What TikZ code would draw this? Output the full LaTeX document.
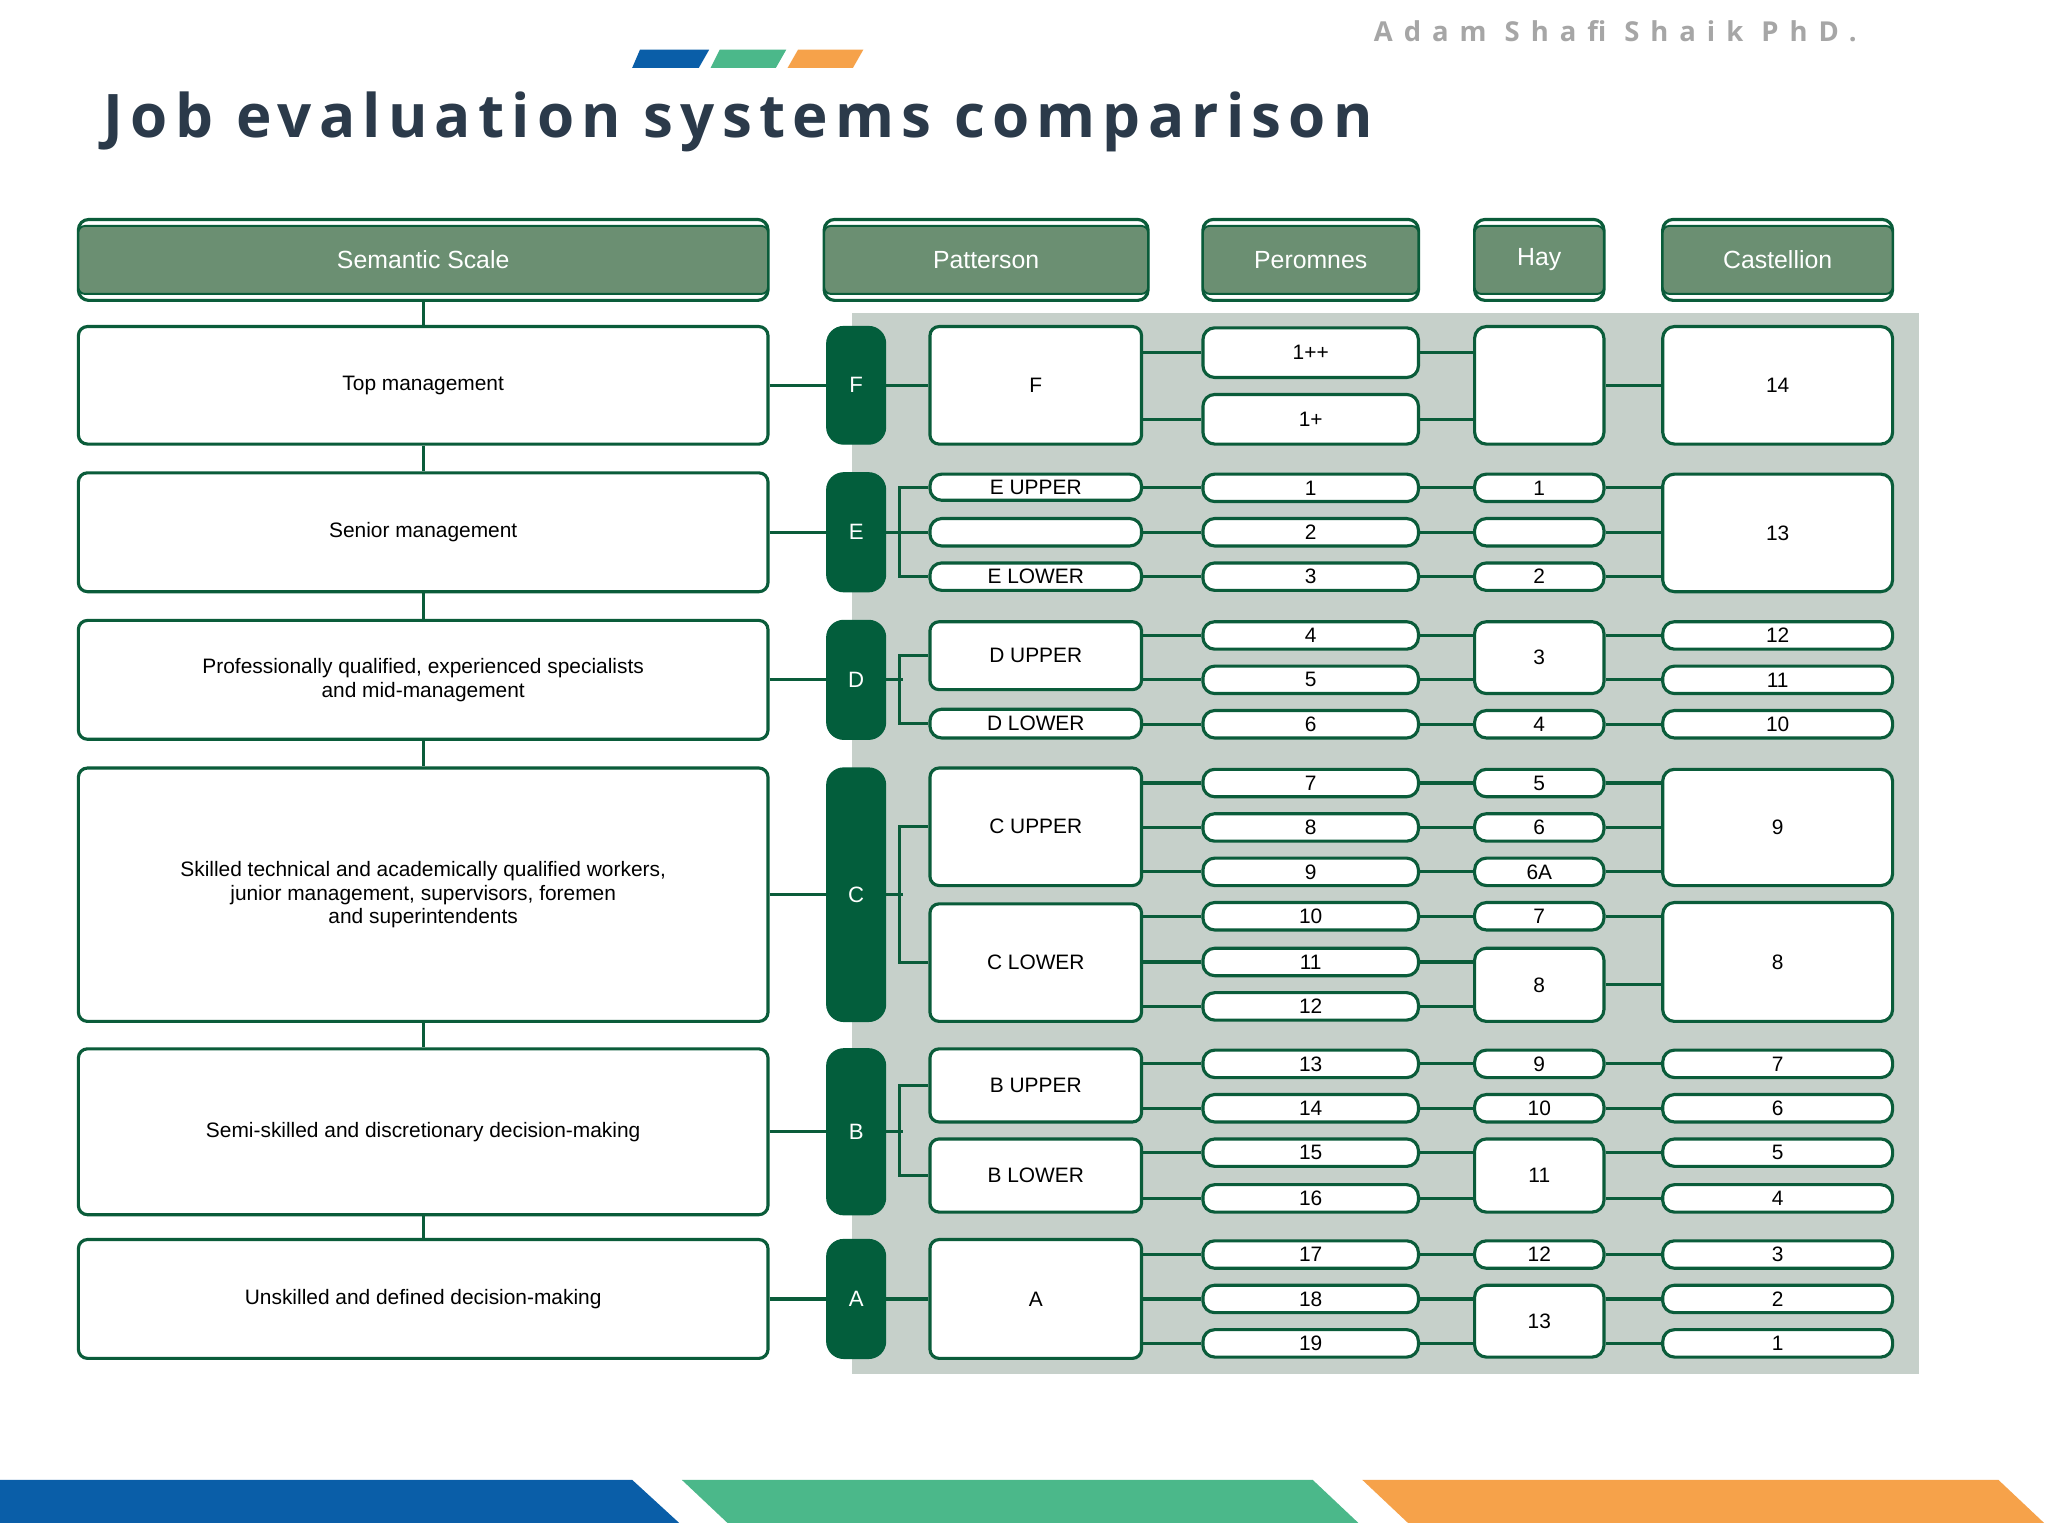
\documentclass[tikz,border=0pt]{standalone}
\usepackage{fontspec}
\setmainfont{Liberation Sans}
\newfontfamily\titlefont[LetterSpace=12]{Open Sans}
\newfontfamily\authfont[LetterSpace=40]{Open Sans}
\definecolor{dkg}{HTML}{0A5C3A}
\definecolor{pillg}{HTML}{035E3C}
\definecolor{hdr}{HTML}{6B8F72}
\definecolor{bgg}{HTML}{C6D0CA}
\definecolor{bl}{HTML}{0A5EA8}
\definecolor{gr}{HTML}{4BB88A}
\definecolor{orn}{HTML}{F6A24A}
\definecolor{ttl}{HTML}{2B3A4A}
\newcommand\mk[7]{\node[#1,minimum width={(#5-#3)*1pt},minimum height={(#6-#4)*1pt}] (#2) at ({(#3+#5)/2},{(#4+#6)/2}) {#7};}
\tikzset{
 bx/.style={draw=dkg,line width=2.4pt,rounded corners=7pt,fill=white,inner sep=0pt,font=\fontsize{16}{18}\selectfont,align=center},
 pl/.style={bx,rounded corners=9pt},
 lt/.style={draw=pillg,fill=pillg,rounded corners=13pt,line width=1pt,inner sep=0pt,text=white,font=\fontsize{17}{18}\selectfont},
 hd/.style={draw=dkg,line width=2.4pt,rounded corners=8pt,fill=white,inner sep=0pt},
 hi/.style={draw=dkg,line width=1.5pt,rounded corners=5pt,fill=hdr,inner sep=0pt,text=white,font=\fontsize{19}{20}\selectfont},
 ln/.style={draw=dkg,line width=2.4pt}
}
\begin{document}
\begin{tikzpicture}[x=1pt,y=-1pt]
\useasboundingbox (0,0) rectangle (1568,1176);
\fill[white] (0,0) rectangle (1568,1176);
\node[anchor=east,text=gray!70,font=\authfont\bfseries\fontsize{21}{22}\selectfont] (auth) at (1425,24) {Adam Shafi Shaik PhD.};
\fill[bl] (490,38)--(543,38)--(535,52)--(484,52)--cycle;
\fill[gr] (551,38)--(602,38)--(594,52)--(544,52)--cycle;
\fill[orn] (611,38)--(661,38)--(653,52)--(603,52)--cycle;
\node[anchor=west,text=ttl,font=\titlefont\bfseries\fontsize{46}{48}\selectfont] (title) at (76,93) {Job evaluation systems comparison};
\fill[bgg] (652,240) rectangle (1469,1052);
% headers
\foreach \n/\a/\b/\t in {HS/60/588/Semantic Scale,HP/631/879/Patterson,HR/921/1086/Peromnes,HH/1129/1228/Hay,HC/1273/1449/Castellion}{
 \mk{hd}{\n}{\a}{168}{\b}{230}{}
 \mk{hi}{\n i}{\a+5}{173}{\b-5}{225}{\t}
}
% left boxes
\mk{bx}{L1}{60}{250}{588}{340}{Top management}
\mk{bx}{L2}{60}{362}{588}{453}{Senior management}
\mk{bx}{L3}{60}{475}{588}{566}{Professionally qualified, experienced specialists\\and mid-management}
\mk{bx}{L4}{60}{588}{588}{782}{Skilled technical and academically qualified workers,\\junior management, supervisors, foremen\\and superintendents}
\mk{bx}{L5}{60}{803}{588}{930}{Semi-skilled and discretionary decision-making}
\mk{bx}{L6}{60}{949}{588}{1040}{Unskilled and defined decision-making}
\draw[ln] (HS.south)--(L1.north) (L1.south)--(L2.north) (L2.south)--(L3.north) (L3.south)--(L4.north) (L4.south)--(L5.north) (L5.south)--(L6.north);
% letters
\mk{lt}{GF}{633}{250}{678}{340}{F}
\mk{lt}{GE}{633}{362}{678}{453}{E}
\mk{lt}{GD}{633}{475}{678}{566}{D}
\mk{lt}{GC}{633}{588}{678}{782}{C}
\mk{lt}{GB}{633}{803}{678}{930}{B}
\mk{lt}{GA}{633}{949}{678}{1040}{A}
\draw[ln] (L1.east)--(GF.west) (L2.east)--(GE.west) (L3.east)--(GD.west) (L4.east)--(GC.west) (L5.east)--(GB.west) (L6.east)--(GA.west);
% Patterson
\mk{bx}{PF}{712}{250}{874}{340}{F}
\mk{pl}{PEu}{712}{363}{874}{383}{E UPPER}
\mk{pl}{PEm}{712}{397}{874}{418}{}
\mk{pl}{PEl}{712}{431}{874}{452}{E LOWER}
\mk{bx}{PDu}{712}{476}{874}{528}{D UPPER}
\mk{pl}{PDl}{712}{543}{874}{565}{D LOWER}
\mk{bx}{PCu}{712}{588}{874}{678}{C UPPER}
\mk{bx}{PCl}{712}{692}{874}{782}{C LOWER}
\mk{bx}{PBu}{712}{803}{874}{859}{B UPPER}
\mk{bx}{PBl}{712}{872}{874}{928}{B LOWER}
\mk{bx}{PA}{712}{949}{874}{1040}{A}
\draw[ln] (GF.east)--(PF.west) (GA.east)--(PA.west) (GE.east)--(PEm.west);
\draw[ln] (PEu.west)--++(-22,0)|-(PEl.west);
\draw[ln] (GD.east)--++(13,0) (PDu.west)--++(-22,0)|-(PDl.west);
\draw[ln] (GC.east)--++(13,0) (PCu.west)--++(-22,0)|-(PCl.west);
\draw[ln] (GB.east)--++(13,0) (PBu.west)--++(-22,0)|-(PBl.west);
% Hay
\foreach \n/\a/\b/\t in {0/250/340/{},1/363/384/1,b/397/418/{},2/431/452/2,3/476/531/3,4/544/565/4,5/589/610/5,6/623/644/6,6A/657/678/6A,7/691/712/7,8/726/782/8,9/804/825/9,10/838/859/10,11/872/928/11,12/950/971/12,13/984/1039/13}{
 \mk{pl}{H\n}{1129}{\a}{1228}{\b}{\t}}
% Castellion
\foreach \n/\a/\b in {14/250/340,13/363/453,12/476/497,11/510/531,10/544/565,9/589/678,8/691/782,7/804/825,6/838/859,5/872/893,4/907/928,3/950/971,2/984/1005,1/1018/1039}{
 \mk{pl}{C\n}{1273}{\a}{1449}{\b}{\n}}
% Peromnes with connectors
\foreach \n/\a/\b/\t/\p/\h in {a/251/289/1++/PF/0,b/302/340/1+/PF/0,1/363/384/1/PEu/1,2/397/418/2/PEm/b,3/431/452/3/PEl/2,4/476/497/4/PDu/3,5/510/531/5/PDu/3,6/544/565/6/PDl/4,7/589/610/7/PCu/5,8/623/644/8/PCu/6,9/657/678/9/PCu/6A,10/691/712/10/PCl/7,11/726/747/11/PCl/8,12/760/781/12/PCl/8,13/804/825/13/PBu/9,14/838/859/14/PBu/10,15/872/893/15/PBl/11,16/907/928/16/PBl/11,17/950/971/17/PA/12,18/984/1005/18/PA/13,19/1018/1039/19/PA/13}{
 \mk{pl}{R\n}{921}{\a}{1086}{\b}{\t}
 \draw[ln] (R\n.west)--(R\n.west -| \p.east) (R\n.east)--(R\n.east -| H\h.west);
}
% Hay to Castellion, at Hay centres
\foreach \h/\c in {0/14,1/13,b/13,2/13,4/10,5/9,6/9,6A/9,7/8,8/8,9/7,10/6,12/3}{
 \draw[ln] (H\h.east)--(H\h.east -| C\c.west);}
% at Castellion centres
\foreach \h/\c in {3/12,3/11,11/5,11/4,13/2,13/1}{
 \draw[ln] (C\c.west)--(C\c.west -| H\h.east);}
% bottom bands
\fill[bl] (0,1133)--(484,1133)--(520,1166)--(0,1166)--cycle;
\fill[gr] (522,1133)--(1005,1133)--(1040,1166)--(557,1166)--cycle;
\fill[orn] (1043,1133)--(1530,1133)--(1565,1166)--(1078,1166)--cycle;
\end{tikzpicture}
\end{document}
